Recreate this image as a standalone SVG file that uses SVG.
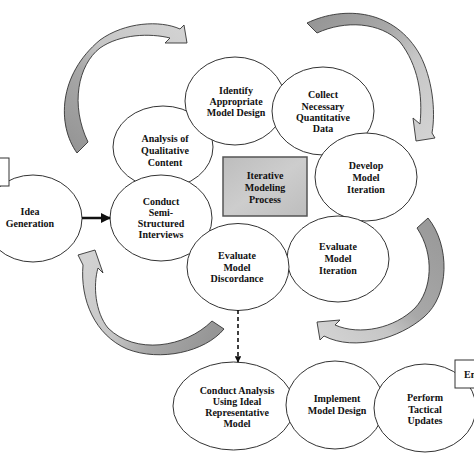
<svg xmlns="http://www.w3.org/2000/svg" width="474" height="474" viewBox="0 0 474 474">
<style>
.n{fill:#fff;stroke:#333;stroke-width:1}
.t{font-family:"Liberation Serif","Times New Roman",serif;font-weight:bold;font-size:10px;text-anchor:middle;fill:#111}
.ba{stroke:#333;stroke-width:0.9;stroke-linejoin:miter}
</style>
<defs>
<linearGradient id="g1" gradientUnits="userSpaceOnUse" x1="80" y1="150" x2="180" y2="30"><stop offset="0" stop-color="#969696"/><stop offset="0.4" stop-color="#a8a8a8"/><stop offset="0.6" stop-color="#c6c6c6"/><stop offset="1" stop-color="#d2d2d2"/></linearGradient>
<linearGradient id="g2" gradientUnits="userSpaceOnUse" x1="310" y1="25" x2="425" y2="140"><stop offset="0" stop-color="#969696"/><stop offset="0.35" stop-color="#a8a8a8"/><stop offset="0.6" stop-color="#c6c6c6"/><stop offset="1" stop-color="#d2d2d2"/></linearGradient>
<linearGradient id="g3" gradientUnits="userSpaceOnUse" x1="425" y1="220" x2="320" y2="330"><stop offset="0" stop-color="#9a9a9a"/><stop offset="0.5" stop-color="#a8a8a8"/><stop offset="0.7" stop-color="#c6c6c6"/><stop offset="1" stop-color="#d2d2d2"/></linearGradient>
<linearGradient id="g4" gradientUnits="userSpaceOnUse" x1="218" y1="326" x2="90" y2="255"><stop offset="0" stop-color="#969696"/><stop offset="0.35" stop-color="#a8a8a8"/><stop offset="0.6" stop-color="#c6c6c6"/><stop offset="1" stop-color="#d2d2d2"/></linearGradient>
<linearGradient id="gb" x1="0" y1="0" x2="1" y2="1"><stop offset="0" stop-color="#bdbdbd"/><stop offset="0.5" stop-color="#cdcdcd"/><stop offset="1" stop-color="#bdbdbd"/></linearGradient>
<marker id="ah" viewBox="0 0 10 10" refX="9" refY="5" markerWidth="4" markerHeight="4" orient="auto" markerUnits="strokeWidth"><path d="M0,0 L10,5 L0,10 Z" fill="#111"/></marker>
<marker id="ah2" viewBox="0 0 10 10" refX="9" refY="5" markerWidth="4" markerHeight="4" orient="auto" markerUnits="strokeWidth"><path d="M0,0 L10,5 L0,10 Z" fill="#111"/></marker>
</defs>

<g id="cycle-arrows">
<path class="ba" fill="url(#g1)" d="M77,153 C57,125 58,75 100,40 C125,22 160,20 180,29 L184,25 L187,43 L165,43 L170,38 C150,33 120,34 100,48 C78,65 70,105 88,142 Z"/>
<path class="ba" fill="url(#g2)" d="M307,23 C345,5 395,10 420,55 C432,78 436,110 432,133 L435,138 L416,141 L413,118 L420,124 C423,95 418,65 400,42 C380,22 345,20 317,33 Z"/>
<path class="ba" fill="url(#g3)" d="M428,218 C450,245 450,295 424,317 C400,338 355,352 324,336 L320,340 L317,322 L340,320 L335,325 C360,336 395,328 415,308 C432,290 435,255 417,228 Z"/>
<path class="ba" fill="url(#g4)" d="M212,321 C185,348 135,355 108,328 C95,312 93,285 98,268 L103,273 L95,250 L78,255 L83,265 C80,300 95,335 127,349 C160,362 205,352 224,329 Z"/>
</g>

<g id="n-analysis"><ellipse class="n" cx="163" cy="147" rx="50" ry="41"/>
<text class="t" x="165" y="142">Analysis of</text><text class="t" x="165" y="154">Qualitative</text><text class="t" x="165" y="166">Content</text></g>

<g id="n-identify"><ellipse class="n" cx="235" cy="101" rx="50" ry="44"/>
<text class="t" x="236" y="94">Identify</text><text class="t" x="236" y="105">Appropriate</text><text class="t" x="236" y="116">Model Design</text></g>

<g id="n-collect"><ellipse class="n" cx="323" cy="111" rx="51" ry="44"/>
<text class="t" x="323" y="98">Collect</text><text class="t" x="323" y="109.5">Necessary</text><text class="t" x="323" y="121">Quantitative</text><text class="t" x="323" y="132">Data</text></g>

<g id="n-develop"><ellipse class="n" cx="366" cy="177" rx="51" ry="44"/>
<text class="t" x="366" y="169">Develop</text><text class="t" x="366" y="181">Model</text><text class="t" x="366" y="192.5">Iteration</text></g>

<g id="n-eval-iteration"><ellipse class="n" cx="338" cy="259" rx="51" ry="43"/>
<text class="t" x="338" y="250">Evaluate</text><text class="t" x="338" y="262">Model</text><text class="t" x="338" y="273.5">Iteration</text></g>

<g id="n-conduct-interviews"><ellipse class="n" cx="161" cy="218" rx="51" ry="43"/>
<text class="t" x="161" y="205">Conduct</text><text class="t" x="161" y="216">Semi-</text><text class="t" x="161" y="227">Structured</text><text class="t" x="161" y="238">Interviews</text></g>

<g id="n-eval-discordance"><ellipse class="n" cx="238" cy="267" rx="51" ry="43.5"/>
<text class="t" x="237" y="259">Evaluate</text><text class="t" x="237" y="271">Model</text><text class="t" x="237" y="282">Discordance</text></g>

<g id="n-idea"><ellipse class="n" cx="33" cy="218.5" rx="49" ry="43.5"/>
<text class="t" x="30" y="215">Idea</text><text class="t" x="30" y="227">Generation</text></g>

<g id="n-start-box"><rect class="n" x="-20" y="158" width="29" height="28"/></g>

<g id="n-process"><rect x="223" y="157" width="84" height="59" fill="url(#gb)" stroke="#555" stroke-width="1.5"/>
<text class="t" x="265" y="179" fill="#222">Iterative</text><text class="t" x="265" y="191">Modeling</text><text class="t" x="265" y="202.5">Process</text></g>

<g id="n-conduct-analysis"><ellipse class="n" cx="233.5" cy="406" rx="60.5" ry="44"/>
<text class="t" x="237" y="394">Conduct Analysis</text><text class="t" x="237" y="405">Using Ideal</text><text class="t" x="237" y="416">Representative</text><text class="t" x="237" y="427">Model</text></g>

<g id="n-implement"><ellipse class="n" cx="335" cy="405" rx="49" ry="44"/>
<text class="t" x="337" y="402">Implement</text><text class="t" x="337" y="414">Model Design</text></g>

<g id="n-perform"><ellipse class="n" cx="425" cy="408" rx="51" ry="44"/>
<text class="t" x="425" y="401">Perform</text><text class="t" x="425" y="413">Tactical</text><text class="t" x="425" y="424">Updates</text></g>

<g id="n-end-box"><rect class="n" x="455" y="360" width="40" height="28"/>
<text class="t" x="464" y="378" style="text-anchor:start">End</text></g>

<g id="connectors">
<line x1="82" y1="218" x2="110" y2="218" stroke="#111" stroke-width="2.5" marker-end="url(#ah)"/>
<line x1="238" y1="310" x2="238" y2="362" stroke="#111" stroke-width="1.6" stroke-dasharray="4,3" marker-end="url(#ah2)"/>
</g>
</svg>
